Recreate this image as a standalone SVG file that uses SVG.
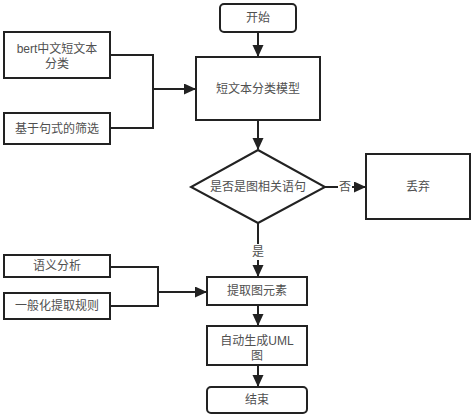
<svg xmlns="http://www.w3.org/2000/svg" width="474" height="417" viewBox="0 0 474 417">
<defs>
<marker id="arr" markerWidth="12" markerHeight="12" refX="11" refY="5.5" orient="auto" markerUnits="userSpaceOnUse">
<path d="M0,0 L12,5.5 L0,11 Z" fill="#222"/>
</marker>
<style>
.box{fill:#fff;stroke:#222;stroke-width:2}
.ln{fill:none;stroke:#222;stroke-width:2}
.t{font-family:"Liberation Sans","Noto Sans CJK SC",sans-serif;font-size:12px;fill:#505050;text-anchor:middle;dominant-baseline:central}
</style>
</defs>
<rect width="474" height="417" fill="#fff"/>
<g id="connectors">
<path class="ln" d="M258,32 V56" marker-end="url(#arr)"/>
<path class="ln" d="M110,55 H153 V128 H110"/>
<path class="ln" d="M153,89 H195" marker-end="url(#arr)"/>
<path class="ln" d="M258,120 V149" marker-end="url(#arr)"/>
<path class="ln" d="M325,187 H365" marker-end="url(#arr)"/>
<path class="ln" d="M258,223 V276" marker-end="url(#arr)"/>
<path class="ln" d="M110,267 H158 V306 H110"/>
<path class="ln" d="M158,292 H206" marker-end="url(#arr)"/>
<path class="ln" d="M258,305 V325" marker-end="url(#arr)"/>
<path class="ln" d="M258,365 V386" marker-end="url(#arr)"/>
<rect x="338" y="179" width="14" height="16" fill="#fff"/>
<text class="t" x="345" y="187">否</text>
<rect x="251" y="244" width="14" height="16" fill="#fff"/>
<text class="t" x="258" y="252">是</text>
</g>
<g id="start"><rect class="box" x="220" y="4" width="76" height="28" rx="4"/><text class="t" x="258" y="18">开始</text></g>
<g id="bert"><rect class="box" x="4" y="32" width="106" height="46"/><text class="t" x="57" y="49">bert中文短文本</text><text class="t" x="57" y="64">分类</text></g>
<g id="sentence"><rect class="box" x="4" y="113" width="106" height="31"/><text class="t" x="57" y="128.5">基于句式的筛选</text></g>
<g id="model"><rect class="box" x="196" y="57" width="124" height="63"/><text class="t" x="258" y="88.5">短文本分类模型</text></g>
<g id="decision"><polygon class="box" points="258,150 325,187 258,223 191,187"/><text class="t" x="258" y="187">是否是图相关语句</text></g>
<g id="discard"><rect class="box" x="366" y="154" width="104" height="65"/><text class="t" x="418" y="187">丢弃</text></g>
<g id="semantic"><rect class="box" x="4" y="255" width="106" height="22"/><text class="t" x="57" y="266">语义分析</text></g>
<g id="rules"><rect class="box" x="4" y="293" width="106" height="26"/><text class="t" x="57" y="306">一般化提取规则</text></g>
<g id="extract"><rect class="box" x="207" y="277" width="100" height="28"/><text class="t" x="257" y="291">提取图元素</text></g>
<g id="uml"><rect class="box" x="207" y="326" width="100" height="39"/><text class="t" x="257" y="341">自动生成UML</text><text class="t" x="257" y="356">图</text></g>
<g id="end"><rect class="box" x="207" y="387" width="100" height="26" rx="4"/><text class="t" x="257" y="400">结束</text></g>
</svg>
